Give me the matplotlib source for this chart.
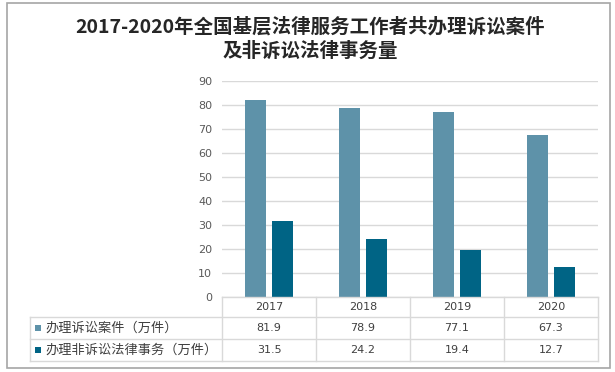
import matplotlib
matplotlib.use("Agg")
import matplotlib.pyplot as plt
from matplotlib.patches import Rectangle
from matplotlib.lines import Line2D

plt.rcParams['font.family'] = ['Noto Sans CJK SC', 'DejaVu Sans']

title = "2017-2020年全国基层法律服务工作者共办理诉讼案件\n及非诉讼法律事务量"
years = ["2017", "2018", "2019", "2020"]
series_names = ["办理诉讼案件（万件）", "办理非诉讼法律事务（万件）"]
litigation = [81.9, 78.9, 77.1, 67.3]
non_litigation = [31.5, 24.2, 19.4, 12.7]
yticks = [0, 10, 20, 30, 40, 50, 60, 70, 80, 90]

colors = ["#5E92A9", "#006485"]
W, H = 615, 372
fig = plt.figure(figsize=(W / 100, H / 100), dpi=100)

def fx(px):
    return px / W

def fy(py):
    return 1 - py / H

# outer border
fig.add_artist(Rectangle((fx(7), fy(368)), fx(603), (368 - 3) / H, transform=fig.transFigure,
                         fill=False, edgecolor="#A6A6A6", linewidth=1.2))

ax_left, ax_right, ax_top, ax_bot = 222, 598, 81, 297
ax = fig.add_axes([fx(ax_left), fy(ax_bot), (ax_right - ax_left) / W, (ax_bot - ax_top) / H])
x = list(range(len(years)))
bw = 0.223
off = 0.144
ax.bar([i - off for i in x], litigation, width=bw, color=colors[0], zorder=3)
ax.bar([i + off for i in x], non_litigation, width=bw, color=colors[1], zorder=3)
ax.set_xlim(-0.5, len(years) - 0.5)
ax.set_ylim(0, 90)
ax.set_yticks(yticks)
ax.set_yticklabels([str(v) for v in yticks], color="#595959", fontsize=8, family="DejaVu Sans")
ax.yaxis.grid(True, color="#D9D9D9", linewidth=1)
ax.set_axisbelow(True)
ax.set_xticks([])
for s in ax.spines.values():
    s.set_visible(False)
ax.tick_params(axis="y", length=0, pad=7)

# title
fig.text(fx(310), fy(39), title, ha="center", va="center", fontsize=14, fontweight="bold",
         color="#262626", linespacing=1.35)

# data table
line_c = "#D9D9D9"
rows_y = [297, 317, 339, 361]
tab_left = 30
col_x = [ax_left + i * (ax_right - ax_left) / len(years) for i in range(len(years) + 1)]

def hline(x0, x1, y):
    fig.add_artist(Line2D([fx(x0), fx(x1)], [fy(y), fy(y)], color=line_c, linewidth=1,
                          transform=fig.transFigure))

def vline(xp, y0, y1):
    fig.add_artist(Line2D([fx(xp), fx(xp)], [fy(y0), fy(y1)], color=line_c, linewidth=1,
                          transform=fig.transFigure))

hline(ax_left, ax_right, rows_y[0])
for y in rows_y[1:]:
    hline(tab_left, ax_right, y)
for xp in col_x:
    vline(xp, rows_y[0], rows_y[3])
vline(tab_left, rows_y[1], rows_y[3])

tc = "#404040"
for i, yr in enumerate(years):
    cx = (col_x[i] + col_x[i + 1]) / 2
    fig.text(fx(cx), fy((rows_y[0] + rows_y[1]) / 2), yr, ha="center", va="center",
             fontsize=8, color=tc, family="DejaVu Sans")
    fig.text(fx(cx), fy((rows_y[1] + rows_y[2]) / 2), f"{litigation[i]:.1f}", ha="center",
             va="center", fontsize=8, color=tc, family="DejaVu Sans")
    fig.text(fx(cx), fy((rows_y[2] + rows_y[3]) / 2), f"{non_litigation[i]:.1f}", ha="center",
             va="center", fontsize=8, color=tc, family="DejaVu Sans")

for r, name in enumerate(series_names):
    yc = (rows_y[r + 1] + rows_y[r + 2]) / 2
    fig.add_artist(Rectangle((fx(35), fy(yc + 3)), fx(6), 6 / H, transform=fig.transFigure,
                             facecolor=colors[r], edgecolor="none"))
    fig.text(fx(45), fy(yc), name, ha="left", va="center", fontsize=9.5, color=tc)

fig.savefig("out.png", dpi=100)
